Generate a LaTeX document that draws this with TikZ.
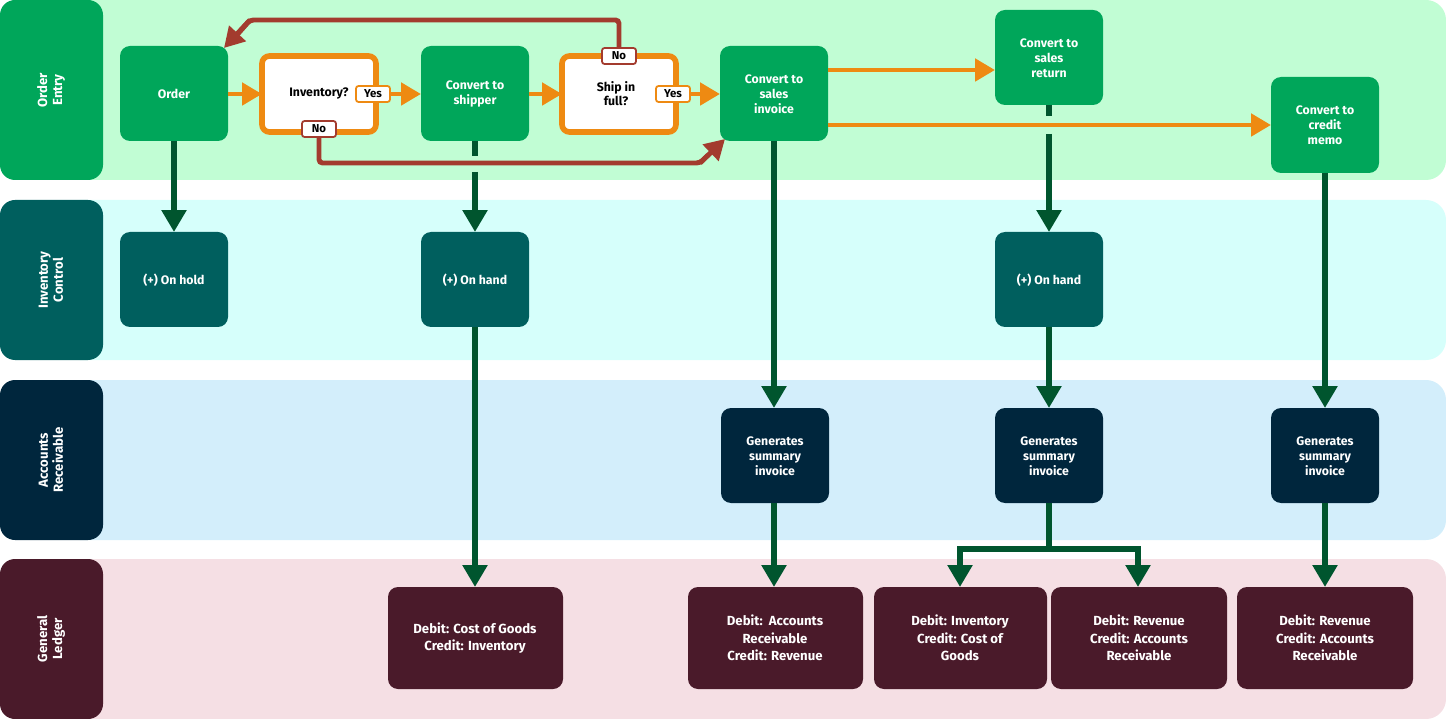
\documentclass[tikz,border=0pt]{standalone}
\usepackage{fontspec}
\setmainfont{Fira Sans}
\usetikzlibrary{arrows.meta}
\definecolor{oeg}{HTML}{00A65A}
\definecolor{oebg}{HTML}{C1FDD4}
\definecolor{icc}{HTML}{005F5E}
\definecolor{icbg}{HTML}{D6FFFB}
\definecolor{arc}{HTML}{00263D}
\definecolor{arbg}{HTML}{D3EEFB}
\definecolor{glc}{HTML}{4A1A2A}
\definecolor{glbg}{HTML}{F5DFE4}
\definecolor{org}{HTML}{EE8A12}
\definecolor{redc}{HTML}{A33B2E}
\definecolor{grn}{HTML}{00552E}
\begin{document}
\begin{tikzpicture}[x=0.02cm,y=-0.02cm,
  box/.style={rounded corners=0.2cm,text=white,font=\bfseries\fontsize{7}{8.5}\selectfont,align=center,inner sep=0},
  lanebg/.style={rounded corners=0.4cm},
  lanelab/.style={rounded corners=0.3cm,text=white,font=\bfseries\fontsize{7.5}{8.5}\selectfont},
  dec/.style={draw=org,line width=3.2pt,fill=white,rounded corners=0.15cm},
  tag/.style={draw,line width=1pt,fill=white,rounded corners=0.05cm,font=\bfseries\fontsize{6.5}{7}\selectfont,inner sep=1pt,minimum width=0.68cm,minimum height=0.32cm},
  oa/.style={draw=org,line width=2.8pt,-{Triangle[width=0.44cm,length=0.4cm]}},
  ra/.style={draw=redc,line width=2.8pt,-{Triangle[width=0.44cm,length=0.4cm]}},
  rl/.style={draw=redc,line width=2.8pt},
  ga/.style={draw=grn,line width=3.6pt,-{Triangle[width=0.48cm,length=0.44cm]}},
  gl/.style={draw=grn,line width=3.6pt}]
\useasboundingbox (0,0) rectangle (1446,719);
% lanes
\fill[lanebg,oebg] (60,0) rectangle (1446,180);
\fill[lanebg,icbg] (60,200) rectangle (1446,360);
\fill[lanebg,arbg] (60,380) rectangle (1446,540);
\fill[lanebg,glbg] (60,559) rectangle (1446,719);
\fill[lanelab,oeg] (0,0) rectangle (103,180);
\fill[lanelab,icc] (0,200) rectangle (103,360);
\fill[lanelab,arc] (0,380) rectangle (103,540);
\fill[lanelab,glc] (0,559) rectangle (103,719);
\node[lanelab,rotate=90,align=center] (l1) at (51,90) {Order\\Entry};
\node[lanelab,rotate=90,align=center] (l2) at (51,280) {Inventory\\Control};
\node[lanelab,rotate=90,align=center] (l3) at (51,460) {Accounts\\Receivable};
\node[lanelab,rotate=90,align=center] (l4) at (51,639) {General\\Ledger};
% order entry nodes
\path[box,fill=oeg] (120,46) rectangle (228,141); \node[box] (order) at (174,94) {Order};
\coordinate (orderNE) at (224,48);
\draw[dec] (262,56) rectangle (376,132); \node[font=\bfseries\fontsize{7}{8}\selectfont] (inv) at (319,94) {Inventory?};
\path[box,fill=oeg] (421,46) rectangle (529,141); \node[box] (ship) at (475,94) {Convert to\\shipper};
\draw[dec] (562,56) rectangle (676,132); \node[font=\bfseries\fontsize{7}{8}\selectfont,align=center] (sif) at (616,94) {Ship in\\full?};
\path[box,fill=oeg] (720,46) rectangle (828,141); \node[box] (sinv) at (774,94) {Convert to\\sales\\invoice};
\path[box,fill=oeg] (995,10) rectangle (1103,105); \node[box] (sret) at (1049,58) {Convert to\\sales\\return};
\path[box,fill=oeg] (1271,77) rectangle (1379,173); \node[box] (cm) at (1325,125) {Convert to\\credit\\memo};
\node[tag,draw=org] (yes1) at (373,94) {Yes};
\node[tag,draw=redc] (no1) at (319,129) {No};
\node[tag,draw=redc] (no2) at (619,56) {No};
\node[tag,draw=org] (yes2) at (673,94) {Yes};
% inventory control
\path[box,fill=icc] (120,232) rectangle (228,327); \node[box] (hold) at (174,280) {(+) On hold};
\path[box,fill=icc] (421,232) rectangle (529,327); \node[box] (hand1) at (475,280) {(+) On hand};
\path[box,fill=icc] (995,232) rectangle (1103,327); \node[box] (hand2) at (1049,280) {(+) On hand};
% AR
\path[box,fill=arc] (721,408) rectangle (829,503); \node[box] (g1) at (775,456) {Generates\\summary\\invoice};
\path[box,fill=arc] (995,408) rectangle (1103,503); \node[box] (g2) at (1049,456) {Generates\\summary\\invoice};
\path[box,fill=arc] (1271,408) rectangle (1379,503); \node[box] (g3) at (1325,456) {Generates\\summary\\invoice};
% GL
\tikzset{glt/.style={box,font=\bfseries\fontsize{7.5}{10}\selectfont}}
\path[box,fill=glc] (388,587) rectangle (563,689); \node[glt] (d1) at (475,638) {Debit: Cost of Goods\\Credit: Inventory};
\path[box,fill=glc] (688,587) rectangle (863,689); \node[glt] (d2) at (775,638) {Debit:\ \ Accounts\\Receivable\\Credit: Revenue};
\path[box,fill=glc] (874,587) rectangle (1047,689); \node[glt] (d3) at (960,638) {Debit: Inventory\\Credit: Cost of\\Goods};
\path[box,fill=glc] (1051,587) rectangle (1227,689); \node[glt] (d4) at (1139,638) {Debit: Revenue\\Credit: Accounts\\Receivable};
\path[box,fill=glc] (1237,587) rectangle (1413,689); \node[glt] (d5) at (1325,638) {Debit: Revenue\\Credit: Accounts\\Receivable};
% orange arrows
\draw[oa] (228,94) -- (262,94);
\draw[oa] (yes1.east) -- (421,94);
\draw[oa] (529,94) -- (562,94);
\draw[oa] (yes2.east) -- (720,94);
\draw[oa] (828,70) -- (995,70);
\draw[oa] (828,125) -- (1271,125);
% red arrows
\draw[rl,rounded corners=2pt] (no2.north) -- (619,20) -- (250,20) -- (236,36);
\draw[ra] (250,20) -- (orderNE);
\draw[rl,rounded corners=2pt] (no1.south) -- (319,163) -- (700,163) -- (708,155);
\draw[ra] (700,163) -- (725,139);
% green arrows
\draw[ga] (174,141) -- (hold.north |- 0,232);
\draw[gl] (475,141) -- (475,156);
\draw[ga] (475,172) -- (475,232);
\draw[ga] (475,327) -- (475,587);
\draw[ga] (774,141) -- (774,408);
\draw[ga] (774,503) -- (774,587);
\draw[gl] (1049,105) -- (1049,116);
\draw[ga] (1049,134) -- (1049,232);
\draw[ga] (1049,327) -- (1049,408);
\draw[gl] (1049,503) -- (1049,549);
\draw[ga] (960,549) -- (960,587);
\draw[ga] (1138,549) -- (1138,587);
\draw[gl,line cap=rect] (960,549) -- (1138,549);
\draw[ga] (1325,173) -- (1325,408);
\draw[ga] (1325,503) -- (1325,587);
\end{tikzpicture}
\end{document}
